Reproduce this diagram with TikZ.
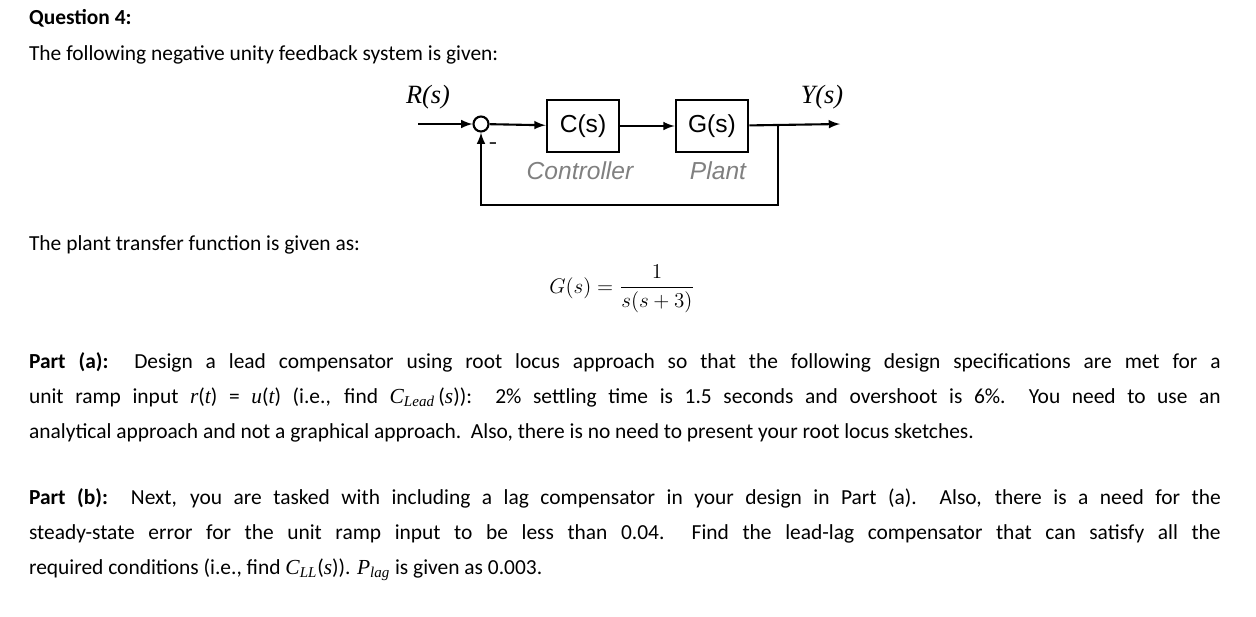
\documentclass[tikz,border=0pt]{standalone}
\usepackage{amsmath}
\usepackage{fontspec}
\setmainfont{Carlito}
\newfontfamily\arialf{Liberation Sans}
\newfontfamily\tmsf{Liberation Serif}
\usetikzlibrary{arrows,positioning}
\newcommand{\jline}[1]{\makebox[23.84cm][s]{#1}}
\newcommand{\tm}[1]{{\tmsf\itshape #1}}
\begin{document}
\begin{tikzpicture}[x=0.02cm,y=-0.02cm,>=latex,line width=1.2pt]
  \tikzstyle{txt}=[anchor=base west,inner sep=0pt,font=\fontsize{12.2}{14}\selectfont]
  \tikzstyle{blk}=[draw,line width=1.6pt,minimum width=1.44cm,minimum height=1.04cm,font=\arialf\fontsize{14}{16}\selectfont]
  \tikzstyle{lbl}=[text=gray,font=\arialf\itshape\fontsize{14}{16}\selectfont]
  \tikzstyle{sig}=[font=\tmsf\fontsize{15}{17}\selectfont]
  \useasboundingbox (0,0) rectangle (1256,616);

  \node[txt] (q)  at (28,24)  {\textbf{Question 4:}};
  \node[txt] (l1) at (28,60)  {The following negative unity feedback system is given:};

  % block diagram
  \node[draw,circle,minimum size=0.3cm,inner sep=0pt] (sum) at (481,124) {};
  \node[blk] (C) at (583,126) {C(s)};
  \node[blk] (G) at (712,126) {G(s)};
  \coordinate (in)  at (418,124);
  \coordinate (out) at (840,124);
  \coordinate (br)  at (778,124);
  \coordinate (bot) at (778,205);
  \draw[->] (in) -- (sum);
  \draw[->] (sum) -- (C);
  \draw[->] (C) -- (G);
  \draw[->] (G) -- (out);
  \draw[->] (br) -- (bot) -| (sum);
  \node[sig] (R) at (428,97) {\itshape R(s)};
  \node[sig] (Y) at (822,97) {\itshape Y(s)};
  \node (m) at (493,146) {\textbf{--}};
  \node[lbl] (ctl) at (580,171) {Controller};
  \node[lbl] (plt) at (718,171) {Plant};

  \node[txt] (l2) at (28,250) {The plant transfer function is given as:};
  \node (eq) at (622,289) {\large $G(s)=\dfrac{1}{s(s+3)}$};

  \node[txt] (a1) at (28,368) {\jline{\textbf{Part (a):}\ \ Design a lead compensator using root locus approach so that the following design specifications are met for a}};
  \node[txt] (a2) at (28,403) {\jline{unit ramp input \tm{r}(\tm{t}) = \tm{u}(\tm{t}) (i.e., find \tm{C\textsubscript{Lead}}\,(\tm{s})):\ \ 2\% settling time is 1.5 seconds and overshoot is 6\%.\ \ You need to use an}};
  \node[txt] (a3) at (28,438) {analytical approach and not a graphical approach.\ \ Also, there is no need to present your root locus sketches.};
  \node[txt] (b1) at (28,504) {\jline{\textbf{Part (b):}\ \ Next, you are tasked with including a lag compensator in your design in Part (a).\ \ Also, there is a need for the}};
  \node[txt] (b2) at (28,539) {\jline{steady-state error for the unit ramp input to be less than 0.04.\ \ Find the lead-lag compensator that can satisfy all the}};
  \node[txt] (b3) at (28,574) {required conditions (i.e., find \tm{C\textsubscript{LL}}(\tm{s})). \tm{P\textsubscript{lag}} is given as 0.003.};
\end{tikzpicture}
\end{document}
